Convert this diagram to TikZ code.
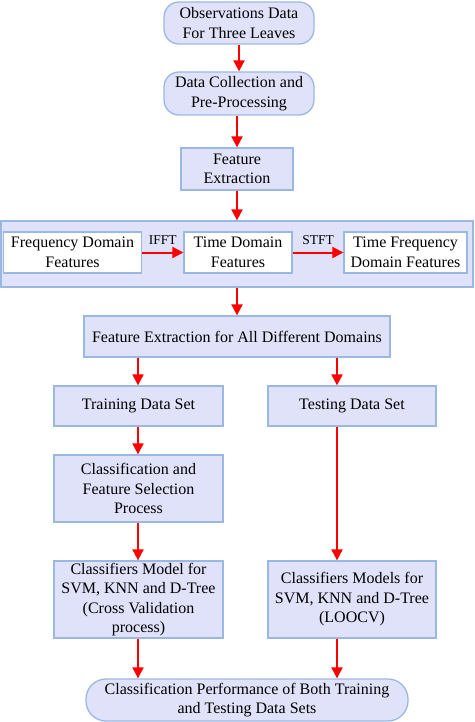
\documentclass[tikz,border=0pt]{standalone}
\usepackage{fontspec}
\setmainfont{Liberation Serif}
\usetikzlibrary{arrows.meta}
\definecolor{boxfill}{HTML}{E0E2FA}
\definecolor{boxline}{HTML}{9BB8E3}
\begin{document}
\begin{tikzpicture}[x=1pt,y=-1pt,
  every node/.style={font=\fontsize{16}{19.5}\selectfont, align=center, inner sep=0pt},
  bx/.style={draw=boxline, fill=boxfill, line width=1.3pt},
  rbx/.style={bx, rounded corners=15pt},
  wbx/.style={draw=boxline, fill=white, line width=1.3pt},
  arr/.style={draw=red, line width=2pt, -{Triangle[length=11pt,width=11pt]}},
  lbl/.style={font=\fontsize{13.5}{16}\selectfont}]
\useasboundingbox (0,0) rectangle (474,722);
\node[rbx, minimum width=150pt, minimum height=42pt] (obs) at (239,23) {Observations Data\\For Three Leaves};
\node[rbx, minimum width=150pt, minimum height=43pt] (dcp) at (239,93.5) {Data Collection and\\Pre-Processing};
\node[bx, minimum width=112pt, minimum height=42pt] (fe) at (237,169) {Feature\\Extraction};
\node[bx, minimum width=472pt, minimum height=66pt] (cont) at (237,254) {};
\node[wbx, minimum width=138pt, minimum height=41pt] (freq) at (72.5,252.5) {Frequency Domain\\Features};
\node[wbx, minimum width=108pt, minimum height=41pt] (time) at (238,252.5) {Time Domain\\Features};
\node[wbx, minimum width=123pt, minimum height=41pt] (tf) at (405.5,252.5) {Time Frequency\\Domain Features};
\node[bx, minimum width=306pt, minimum height=41pt] (fea) at (237,336.5) {Feature Extraction for All Different Domains};
\node[bx, minimum width=169pt, minimum height=40pt] (train) at (138.5,406) {Training Data Set};
\node[bx, minimum width=168pt, minimum height=40pt] (test) at (352,406) {Testing Data Set};
\node[bx, minimum width=169pt, minimum height=67pt] (cfs) at (138.5,488.5) {Classification and\\Feature Selection\\Process};
\node[bx, minimum width=169pt, minimum height=77pt] (cml) at (138.5,599.5) {Classifiers Model for\\SVM, KNN and D-Tree\\(Cross Validation\\process)};
\node[bx, minimum width=168pt, minimum height=77pt] (cmr) at (352,599.5) {Classifiers Models for\\SVM, KNN and D-Tree\\(LOOCV)};
\node[bx, rounded corners=20pt, minimum width=322pt, minimum height=42pt] (fin) at (247,700) {Classification Performance of Both Training\\and Testing Data Sets};
\coordinate (xl) at (138,0);
\coordinate (xr) at (337,0);
\draw[arr] (obs) -- (dcp);
\draw[arr] (dcp.south -| fe) -- (fe);
\draw[arr] (fe.south) -- (cont.north -| fe.south);
\draw[arr] (freq) -- node[lbl, above=7pt] (ifft) {IFFT} (time);
\draw[arr] (time) -- node[lbl, above=7pt] (stft) {STFT} (tf);
\draw[arr] (cont.south -| fea) -- (fea);
\draw[arr] (fea.south -| xl) -- (train.north -| xl);
\draw[arr] (fea.south -| xr) -- (test.north -| xr);
\draw[arr] (train.south -| xl) -- (cfs.north -| xl);
\draw[arr] (cfs.south -| xl) -- (cml.north -| xl);
\draw[arr] (test.south -| xr) -- (cmr.north -| xr);
\draw[arr] (cml.south -| xl) -- (fin.north -| xl);
\draw[arr] (cmr.south -| xr) -- (fin.north -| xr);
\end{tikzpicture}
\end{document}
